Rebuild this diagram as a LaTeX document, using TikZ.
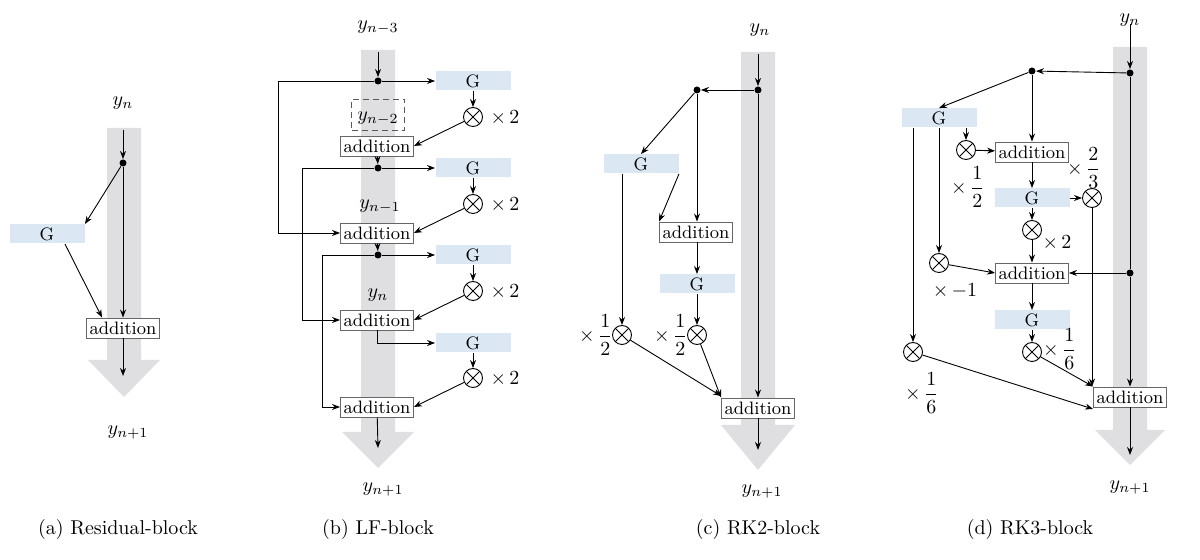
\documentclass[tikz,border=0pt]{standalone}
\usepackage{amsmath}
\usetikzlibrary{arrows.meta}
\definecolor{gband}{RGB}{223,223,226}
\definecolor{gblue}{RGB}{219,232,244}
\newcommand\grayarr[5]{% cx, top, headstart, tip, headhalf
  \fill[gband] (#1-17,#2) -- (#1+17,#2) -- (#1+17,#3) -- (#1+#5,#3) -- (#1,#4) -- (#1-#5,#3) -- (#1-17,#3) -- cycle;}
\begin{document}
\begin{tikzpicture}[x=0.5pt,y=-0.5pt,
  >={Stealth[length=4pt,width=3pt]},
  every path/.style={line width=0.45pt},
  G/.style={fill=gblue,minimum width=37.5pt,minimum height=9.5pt,inner sep=0pt,font=\small},
  add/.style={draw=gray!80!black,fill=white,minimum width=36.5pt,minimum height=10pt,inner sep=0pt,font=\small},
  ot/.style={draw,circle,minimum size=9.5pt,inner sep=0pt,fill=white,
    path picture={\draw (path picture bounding box.north west)--(path picture bounding box.south east)
      (path picture bounding box.north east)--(path picture bounding box.south west);}},
  dot/.style={circle,fill,inner sep=0pt,minimum size=3.5pt},
  lbl/.style={inner sep=1pt},
  captxt/.style={font=\normalsize}]
\useasboundingbox (0,0) rectangle (1200,560);
% ---------------- (a)
\grayarr{124}{128}{360}{397}{36}
\node[lbl] (ayn) at (123,103) {$y_n$};
\node[dot] (ad) at (123,163) {};
\node[G] (aG) at (47,234) {G};
\node[add] (aA) at (123,328) {addition};
\coordinate (aE) at (123,376);
\node[lbl] (ayn1) at (128,433) {$y_{n+1}$};
\draw[->] (123,130) -- (ad);
\draw[->] (ad) -- (aG.north east);
\draw[->] (ad) -- (aA.north);
\draw[->] (aG.south east) ++(-20,0) -- ([xshift=8]aA.north west);
\draw[->] (aA.south) -- (aE);
\node[captxt] at (118,530) {(a) Residual-block};
% ---------------- (b)
\grayarr{378}{50}{432}{468}{36}
\node[lbl] (by3) at (378,28) {$y_{n-3}$};
\node[dot] (bd1) at (378,81) {};
\node[G] (bG1) at (473,81) {G};
\node[draw,densely dashed,gray!70!black,minimum width=26.5pt,minimum height=15.5pt,inner sep=0pt] (bdash) at (378,115) {};
\node[lbl] (by2) at (378,119) {$y_{n-2}$};
\node[ot] (bo1) at (473,117) {};
\node[lbl] at (505,118) {$\times\,2$};
\node[add] (bA1) at (377,146) {addition};
\node[dot] (bd2) at (378,168) {};
\node[G] (bG2) at (473,168) {G};
\node[ot] (bo2) at (473,204) {};
\node[lbl] at (505,205) {$\times\,2$};
\node[lbl] (by1) at (380,207) {$y_{n-1}$};
\node[add] (bA2) at (377,233) {addition};
\node[dot] (bd3) at (378,255) {};
\node[G] (bG3) at (473,255) {G};
\node[ot] (bo3) at (473,291) {};
\node[lbl] at (505,292) {$\times\,2$};
\node[lbl] (byn) at (378,295) {$y_n$};
\node[add] (bA3) at (377,320) {addition};
\node[G] (bG4) at (473,343) {G};
\node[ot] (bo4) at (473,378) {};
\node[lbl] at (505,379) {$\times\,2$};
\node[add] (bA4) at (377,407) {addition};
\coordinate (bE) at (378,448);
\node[lbl] (byn1) at (383,490) {$y_{n+1}$};
\draw[->] (378,52) -- (bd1);
\draw[->] (bd1) -- (bG1);
\draw[->] (bG1) -- (bo1);
\draw[->] (bo1) -- (bA1.east);
\draw[->] (bA1) -- (bd2);
\draw[->] (bd2) -- (bG2);
\draw[->] (bG2) -- (bo2);
\draw[->] (bo2) -- (bA2.east);
\draw[->] (bA2) -- (bd3);
\draw[->] (bd3) -- (bG3);
\draw[->] (bG3) -- (bo3);
\draw[->] (bo3) -- (bA3.east);
\draw[->] (bA3.south) |- (bG4.west);
\draw[->] (bG4) -- (bo4);
\draw[->] (bo4) -- (bA4.east);
\draw[->] (bA4) -- (bE);
\draw[->] (bd1) -| (278,233) -- (bA2.west);
\draw[->] (bd2) -| (302,320) -- (bA3.west);
\draw[->] (bd3) -| (322,407) -- (bA4.west);
\node[captxt] at (378,530) {(b) LF-block};
% ---------------- (c)
\grayarr{758}{52}{425}{470}{37}
\node[lbl] (cyn) at (760,30) {$y_n$};
\node[dot] (cdR) at (758,90) {};
\node[dot] (cdL) at (697,90) {};
\node[G] (cG1) at (641,164) {G};
\node[add] (cA1) at (696,232) {addition};
\node[G] (cG2) at (697,284) {G};
\node[ot] (co1) at (622,335) {};
\node[lbl] at (596,335) {$\times\,\dfrac{1}{2}$};
\node[ot] (co2) at (697,335) {};
\node[lbl] at (671,335) {$\times\,\dfrac{1}{2}$};
\node[add] (cA2) at (758,408) {addition};
\coordinate (cE) at (758,450);
\node[lbl] (cyn1) at (762,492) {$y_{n+1}$};
\draw[->] (758,54) -- (cdR);
\draw[->] (cdR) -- (cdL);
\draw[->] (cdL) -- (cG1.north);
\draw[->] (cdL) -- (cA1.north-|cdL);
\draw[->] (cG1.south east) -- (cA1.north west);
\draw[->] (cG1.south-|co1) -- (co1);
\draw[->] (cA1.south-|cG2) -- (cG2);
\draw[->] (cG2) -- (co2);
\draw[->] (co1) -- ([yshift=6]cA2.west);
\draw[->] (co2) -- (cA2.north west);
\draw[->] (cdR) -- (cA2.north);
\draw[->] (cA2) -- (cE);
\node[captxt] at (758,530) {(c) RK2-block};
% ---------------- (d)
\grayarr{1130}{47}{430}{465}{35}
\node[lbl] (dyn) at (1130,20) {$y_n$};
\node[dot] (dR1) at (1130,73) {};
\node[dot] (dL) at (1032,71) {};
\node[G] (dG1) at (939,118) {G};
\node[ot] (doa) at (966,150) {};
\node[lbl] at (968,187) {$\times\,\dfrac{1}{2}$};
\node[add] (dA1) at (1032,152) {addition};
\node[G] (dG2) at (1032,198) {G};
\node[ot] (dob) at (1092,198) {};
\node[lbl] at (1084,168) {$\times\,\dfrac{2}{3}$};
\node[ot] (doc) at (1032,230) {};
\node[lbl] at (1057,243) {$\times\,2$};
\node[ot] (dod) at (939,263) {};
\node[lbl] at (955,291) {$\times\,{-1}$};
\node[add] (dA2) at (1032,273) {addition};
\node[dot] (dR2) at (1130,273) {};
\node[G] (dG3) at (1032,320) {G};
\node[ot] (doe) at (1032,352) {};
\node[lbl] at (1060,349) {$\times\,\dfrac{1}{6}$};
\node[ot] (dof) at (913,352) {};
\node[lbl] at (922,393) {$\times\,\dfrac{1}{6}$};
\node[add] (dA3) at (1130,397) {addition};
\coordinate (dE) at (1130,455);
\node[lbl] (dyn1) at (1130,488) {$y_{n+1}$};
\draw[->] (1130,24) -- (dR1);
\draw[->] (dR1) -- (dL);
\draw[->] (dL) -- (dG1.north);
\draw[->] (dL) -- (dA1);
\draw[->] (dG1.south-|doa) -- (doa);
\draw[->] (doa) -- (dA1);
\draw[->] (dA1) -- (dG2);
\draw[->] (dG2) -- (dob);
\draw[->] (dG2) -- (doc);
\draw[->] (doc) -- (dA2);
\draw[->] (dG1.south-|dod) -- (dod);
\draw[->] (dod) -- (dA2.west);
\draw[->] (dR2) -- (dA2.east);
\draw[->] (dA2) -- (dG3);
\draw[->] (dG3) -- (doe);
\draw[->] (dG1.south-|dof) -- (dof);
\draw[->] (dof) -- ([yshift=-6]dA3.west);
\draw[->] (doe) -- (dA3.north west);
\draw[->] (dob) -- (dA3.north west-|dob);
\draw (dR1) -- (dR2);
\draw[->] (dR2) -- (dA3.north);
\draw[->] (dA3) -- (dE);
\node[captxt] at (1030,530) {(d) RK3-block};
\end{tikzpicture}
\end{document}
